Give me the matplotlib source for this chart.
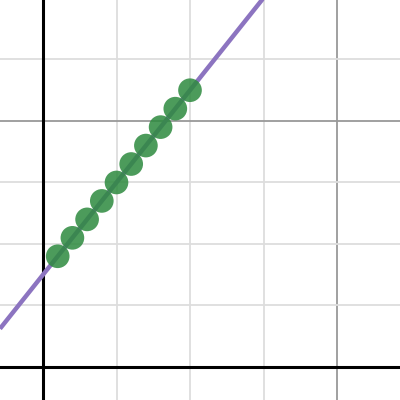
import numpy as np
import matplotlib
matplotlib.use("Agg")
import matplotlib.pyplot as plt

# datos de los puntos (escala: 1 unidad = una celda menor de la cuadricula)
x_puntos = [0.2, 0.4, 0.6, 0.8, 1.0, 1.2, 1.4, 1.6, 1.8, 2.0]
y_puntos = [1.8, 2.1, 2.4, 2.7, 3.0, 3.3, 3.6, 3.9, 4.2, 4.5]

# recta de ajuste y = m x + b
pendiente = 1.5
intercepto = 1.5

x_min, x_max = -0.585, 4.857
y_min, y_max = -0.537, 5.967

fig = plt.figure(figsize=(4, 4), dpi=100)
ax = fig.add_axes([0, 0, 1, 1])
ax.set_xlim(x_min, x_max)
ax.set_ylim(y_min, y_max)

# cuadricula menor y mayor
for gx in range(1, 5):
    color = '#999999' if gx % 4 == 0 else '#dddddd'
    ax.axvline(gx, color=color, lw=1.3, zorder=0)
for gy in range(1, 6):
    color = '#999999' if gy % 4 == 0 else '#dddddd'
    ax.axhline(gy, color=color, lw=1.3, zorder=0)

# ejes
ax.axvline(0, color='black', lw=2.2, zorder=1)
ax.axhline(0, color='black', lw=2.2, zorder=1)

# recta
xs = np.array([x_min, x_max])
ax.plot(xs, pendiente * xs + intercepto, color='#8c74c0', lw=3.2,
        solid_capstyle='butt', zorder=2)

# puntos
ax.scatter(x_puntos, y_puntos, s=290, color='#2d8a3e', alpha=0.85,
           edgecolors='none', zorder=3)

ax.axis('off')
fig.savefig('out.png', dpi=100, facecolor='white')
